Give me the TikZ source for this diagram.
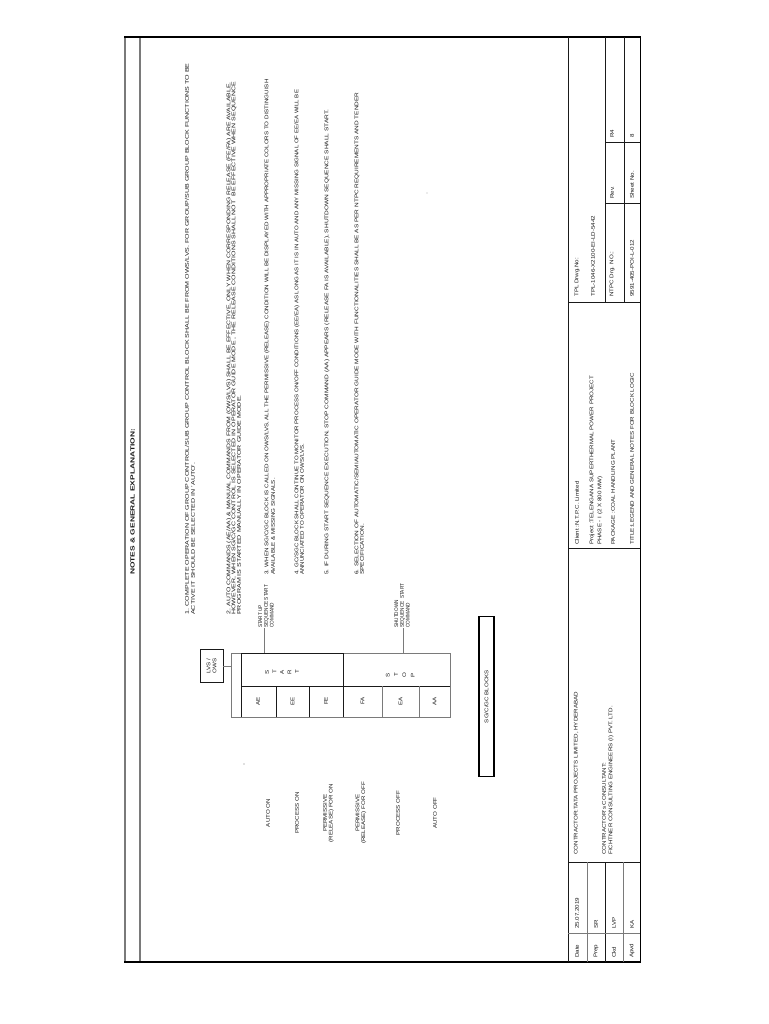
\documentclass[tikz,border=0pt]{standalone}
\usepackage{fontspec}
\setmainfont{Liberation Sans}
\usetikzlibrary{positioning}
\definecolor{sheet}{HTML}{7A7A7A}
\definecolor{ink}{HTML}{1A1A1A}

\begin{document}
\begin{tikzpicture}[x=1pt,y=-1pt,font=\fontsize{5.3}{5.8}\selectfont,
  vtxt/.style={rotate=90,xscale=1.17,inner sep=0pt,text=ink},
  noteline/.style={vtxt,anchor=west},
  cmdlbl/.style={vtxt,anchor=west,align=left,xscale=0.76},
  sidelbl/.style={vtxt,align=center},
  rule/.style={draw=ink,line width=0.7pt},
  softrule/.style={draw=sheet,line width=0.7pt}]
  \useasboundingbox (0,0) rectangle (768,1024);
  \fill[white] (0,0) rectangle (768,1024);

  % sheet frame
  \draw[sheet,line width=1.4pt] (125,37) -- (125,962);
  \draw[sheet,line width=1.4pt] (140,37) -- (140,962);
  \draw[black,line width=1.8pt] (124,37) -- (641,37);
  \draw[black,line width=1.8pt] (124,962) -- (641,962);
  \draw[black,line width=1pt] (640,37) -- (640,962);
  \node[vtxt,xscale=1.2,font=\fontsize{6}{7}\selectfont\bfseries] (hdr) at (132.5,502)
    {NOTES \& GENERAL EXPLANATION:};

  % notes 1 and 2
  \foreach \x/\s/\t in {%
    187/1.145/{1. COMPLETE OPERATION OF GROUP CONTROL/SUB GROUP CONTROL BLOCK SHALL BE FROM OWS/LVS. FOR GROUP/SUB GROUP BLOCK FUNCTIONS TO BE},
    193/1.145/{ACTIVE IT SHOULD BE SELECTED IN 'AUTO'.},
    229/1.105/{2. AUTO COMMANDS (AE/AA) \& MANUAL COMMANDS FROM (OWS/LVS) SHALL BE EFFECTIVE, ONLY WHEN CORRESPONDING RELEASE (FE/FA) ARE AVAILABLE.},
    234/1.13/{HOWEVER, WHEN SG/C/GC CONTROL IS SELECTED IN OPERATOR GUIDE MODE , THE RELEASE CONDITIONS SHALL NOT \ BE EFFECTIVE WHEN SEQUENCE},
    239/1.145/{PROGRAM IS STARTED MANUALLY IN OPERATOR GUIDE MODE.}}
    \node[noteline,xscale=\s] at (\x,615) {\t};
  % notes 3 to 6
  \foreach \x/\s/\t in {%
    267/1/{3. WHEN SG/C/GC BLOCK IS CALLED ON OWS/LVS, ALL THE PERMISSIVE (RELEASE) CONDITION WILL BE DISPLAYED WITH APPROPRIATE COLORS TO DISTINGUISH},
    273/1/{AVAILABLE \& MISSING SIGNALS.},
    297/0.985/{4. GC/SGC BLOCK SHALL CONTINUE TO MONITOR PROCESS ON/OFF CONDITIONS (EE/EA) AS LONG AS IT IS IN AUTO AND ANY MISSING SIGNAL OF EE/EA WILL BE},
    302/0.985/{ANNUNCIATED TO OPERATOR ON OWS/LVS.},
    327/1.055/{5. IF DURING START SEQUENCE EXECUTION, STOP COMMAND (AA) APPEARS (RELEASE FA IS AVAILABLE), SHUTDOWN SEQUENCE SHALL START.},
    357/1.04/{6. SELECTION OF AUTOMATIC/SEMIAUTOMATIC OPERATOR GUIDE MODE WITH FUNCTIONALITIES SHALL BE AS PER NTPC REQUIREMENTS AND TENDER},
    362/1.04/{SPECIFICATION.}}
    \node[noteline,xscale=\s] at (\x,575) {\t};

  % SG/C/GC block
  \node[vtxt,draw=ink,line width=0.6pt,align=left,minimum width=28pt,minimum height=23pt] (lvs) at (211.5,666) {LVS /\\OWS};
  \draw[softrule] (231,653) rectangle (450,717);
  \draw[rule] (241,653) -- (241,717);
  \draw[rule] (241,653) -- (343,653);
  \draw[rule] (241,686) -- (450,686);
  \draw[rule] (343,653) -- (343,717);
  \foreach \x in {276,309} \draw[rule] (\x,686) -- (\x,717);
  \foreach \x in {382,419} \draw[softrule] (\x,686) -- (\x,717);
  \coordinate (blkL) at (231,664);
  \draw[softrule] (lvs.south) -- (lvs.south -| blkL);
  \foreach \c/\x in {AE/258,EE/292.5,FE/326,FA/362.5,EA/400.5,AA/434.5}
    \node[vtxt] (c\c) at (\x,701) {\c};
  \foreach \l [count=\i] in {S,T,A,R,T}
    \node[vtxt] at (259.5+7.5*\i,672) {\l};
  \foreach \l [count=\i] in {S,T,O,P}
    \node[vtxt] at (379.5+8.3*\i,675) {\l};

  % commands into the block
  \node[cmdlbl] (startcmd) at (266,628) {START UP\\SEQUENCE START\\COMMAND};
  \node[cmdlbl] (stopcmd) at (402,628) {SHUTDOWN\\SEQUENCE \ START\\COMMAND};
  \coordinate (startTop) at (264,653);
  \coordinate (stopTop) at (403,653);
  \draw[softrule] (startTop) -- (startTop |- startcmd.west);
  \draw[softrule] (stopTop) -- (stopTop |- stopcmd.west);

  % signal names
  \node[sidelbl] (autoon) at (268,813) {AUTO ON};
  \node[sidelbl] (procon) at (297,813) {PROCESS ON};
  \node[sidelbl] (permon) at (328.5,813) {PERMISSIVE\\(RELEASE) FOR ON};
  \node[sidelbl] (permoff) at (361,813) {PERMISSIVE\\(RELEASE) FOR OFF};
  \node[sidelbl] (procoff) at (398,813) {PROCESS OFF};
  \node[sidelbl] (autooff) at (435,813) {AUTO OFF};

  \node[vtxt,draw=black,line width=1.3pt,minimum width=137pt,minimum height=15pt] (sgc) at (486.5,696.5) {SG/C/GC BLOCKS};

  \fill[sheet] (244,764) circle (0.6);
  \fill[sheet!60] (427,193) circle (0.6);

  % title block
  \draw[rule] (568,37) -- (568,962);
  \foreach \y in {302,548,862} \draw[rule] (568,\y) -- (640,\y);
  \draw[rule] (605,37) -- (605,302);
  \draw[rule] (624,37) -- (624,302);
  \foreach \y in {142,203} \draw[rule] (605,\y) -- (640,\y);
  \draw[softrule] (587,862) -- (587,962);
  \draw[rule,line width=1pt] (605,862) -- (605,962);
  \draw[softrule] (623,862) -- (623,962);
  \draw[softrule] (568,933) -- (640,933);

  \foreach \x/\y/\t in {%
    577/297/{TPL Drwg.No:}, 593/297/{TPL-1046-X2100-EI-LD-5442},
    612/297/{NTPC Drg. NO.:}, 632/297/{9591-405-POI-L-012},
    612/199/{Rev.}, 632/199/{Sheet No.}, 612/138/{R4}, 632/138/{8},
    577/545/{Client :N.T.P.C. Limited},
    592/545/{Project :TELENGANA SUPERTHERMAL POWER PROJECT},
    600/545/{PHASE - I (2 X 800 MW)},
    613/545/{PACKAGE :COAL HANDLING PLANT},
    632/545/{TITLE:LEGEND AND GENERAL NOTES FOR BLOCK LOGIC},
    576/855/{CONTRACTOR:TATA PROJECTS LIMITED, HYDERABAD},
    604/855/{CONTRACTOR's CONSULTANT:},
    611/855/{FICHTNER CONSULTING ENGINEERS (I) PVT. LTD.},
    577/958/{Date}, 596/958/{Prep}, 614/958/{Ckd}, 632/958/{Apvd},
    577/929/{25.07.2019}, 596/929/{SR}, 614/929/{LVP}, 632/929/{KA}}
    \node[noteline] at (\x,\y) {\t};
\end{tikzpicture}
\end{document}
